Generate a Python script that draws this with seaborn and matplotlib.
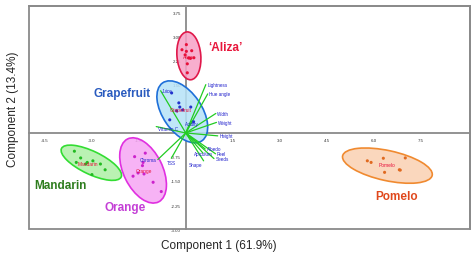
import numpy as np
import pandas as pd
import seaborn as sns
import matplotlib.pyplot as plt
from matplotlib.patches import Ellipse, Rectangle
from matplotlib.colors import to_rgba

# ---- PCA scores ----
groups = ['Aliza', 'Grapefruit', 'Mandarin', 'Orange', 'Pomelo']
aliza_x = [0.02, -0.12, 0.02, 0.19, -0.02, 0.09, 0.15, 0.26, 0.05, 0.05]
aliza_y = [2.76, 2.60, 2.55, 2.57, 2.44, 2.34, 2.33, 2.35, 2.16, 1.88]
grape_x = [-0.45, -0.22, -0.19, -0.29, -0.10, 0.16, -0.51, 0.25]
grape_y = [1.25, 0.94, 0.81, 0.69, 0.72, 0.81, 0.41, 0.35]
mand_x = [-3.55, -3.35, -3.49, -3.19, -3.14, -2.96, -2.72, -2.57, -2.99]
mand_y = [-0.57, -0.78, -0.92, -0.97, -0.92, -0.87, -0.97, -1.15, -1.30]
orange_x = [-1.63, -1.29, -1.36, -1.38, -1.52, -1.33, -1.68, -1.04, -0.78]
orange_y = [-0.74, -0.63, -0.92, -1.02, -1.25, -1.28, -1.35, -1.54, -1.83]
pomelo_x = [5.79, 5.91, 6.30, 7.00, 6.81, 6.34, 6.84]
pomelo_y = [-0.87, -0.92, -0.79, -0.78, -1.15, -1.23, -1.16]

# ellipses: centre x, centre y, width, height, angle
ell_cx = [0.10, -0.11, -3.01, -1.36, 6.43]
ell_cy = [2.41, 0.66, -0.93, -1.17, -1.02]
ell_w = [0.76, 2.20, 2.10, 2.20, 2.92]
ell_h = [1.50, 1.24, 0.72, 1.24, 0.94]
ell_ang = [5, -55, -25, -63, -12]

# loadings (vector ends)
var_names = ['Lightness', 'Hue angle', 'Width', 'Weight', 'Height', 'Albedo', 'Apiculum',
             'Peel', 'Seeds', 'Shape', 'TSS', 'Chroma', 'Vitamin C', 'Juice', 'Acidity']
load_x = [0.64, 0.70, 0.96, 0.98, 1.02, 0.62, 0.55, 0.95, 0.90, 0.57, -0.46, -0.89, -0.94, -0.80, 0.20]
load_y = [1.51, 1.22, 0.61, 0.33, -0.09, -0.50, -0.63, -0.65, -0.80, -0.87, -0.79, -0.83, 0.20, 1.32, 0.38]

# big group labels
big_labels = ['\u2018Aliza\u2019', 'Grapefruit', 'Mandarin', 'Orange', 'Pomelo']
big_x = [1.25, -2.04, -4.0, -1.92, 6.71]
big_y = [2.69, 1.24, -1.62, -2.32, -1.96]

xticks = [-4.5, -3.0, -1.5, 1.5, 3.0, 4.5, 6.0, 7.5]
yticks = [-3.0, -2.25, -1.5, -0.75, 0.75, 1.5, 2.25, 3.0, 3.75]

pt_cols = ['#e8103a', '#2233cc', '#22bb22', '#cc22cc', '#e06a20']
edge_cols = ['#e0184a', '#1e6fd9', '#33dd33', '#e030e0', '#f08a30']
fill_cols = ['#f7a0c6', '#b5e2f7', '#aef0a6', '#f6a6f4', '#fad0b2']
lab_cols = ['#e8173c', '#2a5bbf', '#2e7d1e', '#c43fd6', '#e0481c']

xs = [aliza_x, grape_x, mand_x, orange_x, pomelo_x]
ys = [aliza_y, grape_y, mand_y, orange_y, pomelo_y]
df = pd.concat([pd.DataFrame({'PC1': x, 'PC2': y, 'group': g}) for x, y, g in zip(xs, ys, groups)])

sns.set_style('white')
plt.rcParams['font.family'] = ['Liberation Sans', 'DejaVu Sans']

fig = plt.figure(figsize=(4.74, 2.55), dpi=100)
ax = fig.add_axes([0.061, 0.098, 0.931, 0.875])

for i in range(5):
    ax.add_patch(Ellipse((ell_cx[i], ell_cy[i]), ell_w[i], ell_h[i], angle=ell_ang[i],
                         facecolor=to_rgba(fill_cols[i], 0.85), edgecolor=edge_cols[i],
                         lw=1.2, zorder=3))

sns.scatterplot(data=df, x='PC1', y='PC2', hue='group', palette=pt_cols, s=5,
                linewidth=0, legend=False, ax=ax, zorder=5)

# group centroid names
means = df.groupby('group', sort=False)[['PC1', 'PC2']].mean()
for g in groups:
    ax.text(means.loc[g, 'PC1'], means.loc[g, 'PC2'], g, color='#e8103a', fontsize=3.5,
            ha='center', va='center', zorder=6)

# loading vectors
align = {'Shape': 'right', 'Chroma': 'right', 'TSS': 'center', 'Apiculum': 'center', 'Acidity': 'center'}
for name, lx, ly in zip(var_names, load_x, load_y):
    ax.plot([0, lx], [0, ly], color='#22cc22', lw=0.9, zorder=4)
    ha = align.get(name, 'left')
    dx = {'left': 0.05, 'right': -0.03, 'center': 0}[ha]
    dy = -0.12 if name in ('TSS', 'Shape') else (-0.07 if name in ('Acidity', 'Vitamin C') else 0)
    ax.text(lx + dx, ly + dy, name, color='#2020cc', fontsize=3.3, ha=ha, va='center', zorder=6)

for t, x, y, c in zip(big_labels, big_x, big_y, lab_cols):
    ax.text(x, y, t, color=c, fontsize=8.5, fontweight='bold', ha='center', va='center', zorder=6)

ax.set_xlim(-5.0, 9.07)
ax.set_ylim(-3.0, 3.97)
ax.set_xticks(xticks)
ax.set_yticks(yticks)
ax.set_xticklabels([f'{v:.1f}' for v in xticks])
ax.set_yticklabels([f'{v:.2f}' for v in yticks])
ax.tick_params(labelsize=3.2, length=2, width=0.6, color='#555555', labelcolor='#333333', pad=1.5)

for side in ['left', 'bottom']:
    ax.spines[side].set_position('zero')
for s in ax.spines.values():
    s.set_color('#8a8a8a')
    s.set_linewidth(1.3)
ax.add_patch(Rectangle((0, 0), 1, 1, transform=ax.transAxes, fill=False,
                       edgecolor='#8a8a8a', lw=1.3, clip_on=False, zorder=10))

ax.set_xlabel('Component 1 (61.9%)', fontsize=8.5)
ax.set_ylabel('Component 2 (13.4%)', fontsize=8.5)
ax.xaxis.set_label_coords(0.43, -0.045)
ax.yaxis.set_label_coords(-0.022, 0.54)

fig.savefig('out.png', dpi=100)
